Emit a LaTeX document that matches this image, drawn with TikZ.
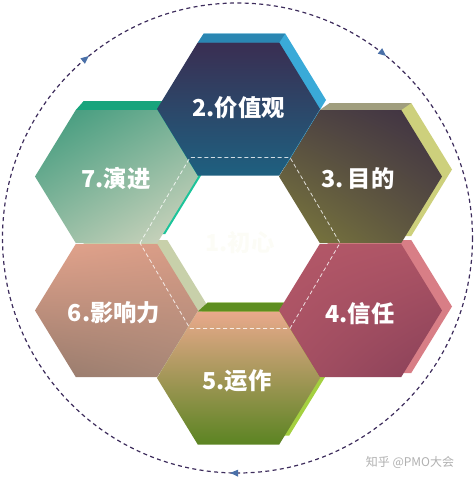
\documentclass[tikz,border=0pt]{standalone}
\usepackage{fontspec}
\newfontfamily\cjk{Noto Sans CJK SC}
\usetikzlibrary{arrows.meta,decorations.markings,shadings}

\definecolor{ringline}{RGB}{61,44,92}
\definecolor{ringtip}{RGB}{74,112,168}
\definecolor{hexTwoTop}{RGB}{58,46,82}
\definecolor{hexTwoBot}{RGB}{30,96,128}
\definecolor{hexTwoSide}{RGB}{58,170,216}
\definecolor{hexTwoRim}{RGB}{42,134,178}
\definecolor{hexThreeA}{RGB}{62,48,68}
\definecolor{hexThreeB}{RGB}{126,124,60}
\definecolor{hexThreeSide}{RGB}{205,208,124}
\definecolor{hexThreeRim}{RGB}{160,158,126}
\definecolor{hexFourA}{RGB}{180,88,104}
\definecolor{hexFourB}{RGB}{136,64,88}
\definecolor{hexFourSide}{RGB}{216,126,134}
\definecolor{hexFiveTop}{RGB}{233,169,140}
\definecolor{hexFiveMid}{RGB}{196,156,118}
\definecolor{hexFiveBot}{RGB}{91,132,34}
\definecolor{hexFiveSide}{RGB}{164,208,64}
\definecolor{hexFiveRim}{RGB}{94,142,32}
\definecolor{hexSixTop}{RGB}{226,163,140}
\definecolor{hexSixBot}{RGB}{168,136,120}
\definecolor{hexSixSide}{RGB}{200,208,170}
\definecolor{hexSevenA}{RGB}{58,152,122}
\definecolor{hexSevenB}{RGB}{216,216,194}
\definecolor{hexSevenSide}{RGB}{28,196,154}
\definecolor{hexSevenRim}{RGB}{24,164,124}

\begin{document}
\begin{tikzpicture}[x=0.75pt,y=0.75pt,yscale=-1,xscale=1,
  hexlabel/.style={text=white,font=\cjk\bfseries\fontsize{17.5}{20}\selectfont},
  ringdash/.style={draw=ringline,line width=0.9pt,dash pattern=on 3pt off 2.5pt},
  innerdash/.style={draw=white,draw opacity=0.8,line width=0.6pt,dash pattern=on 3pt off 2pt}]
\useasboundingbox (0,0) rectangle (474,482);

%Shape: Hexagon 6
\fill [hexSixSide,shift={(10,-4)}] (35,310.5) -- (75.75,244) -- (157.25,244) -- (198,310.5) -- (157.25,377) -- (75.75,377) -- cycle ;
\shade [upper left=hexSixTop,upper right=hexSixTop!95!black,lower left=hexSixBot!90!black,lower right=hexSixBot] (35,310.5) -- (75.75,244) -- (157.25,244) -- (198,310.5) -- (157.25,377) -- (75.75,377) -- cycle ;

%Shape: Hexagon 5
\fill [hexFiveSide,shift={(10,-9)}] (157,378) -- (197.75,311.5) -- (279.25,311.5) -- (320,378) -- (279.25,444.5) -- (197.75,444.5) -- cycle ;
\fill [hexFiveRim] (197.75,311.5) -- (207.75,302.5) -- (289.25,302.5) -- (279.25,311.5) -- cycle ;
\shade [top color=hexFiveTop,middle color=hexFiveMid,bottom color=hexFiveBot] (157,378) -- (197.75,311.5) -- (279.25,311.5) -- (320,378) -- (279.25,444.5) -- (197.75,444.5) -- cycle ;

%Shape: Hexagon 4
\fill [hexFourSide,shift={(10,-4)}] (279,310.5) -- (319.75,244) -- (401.25,244) -- (442,310.5) -- (401.25,377) -- (319.75,377) -- cycle ;
\shade [upper left=hexFourA,upper right=hexFourA!85!hexFourB,lower left=hexFourA!70!hexFourB,lower right=hexFourB] (279,310.5) -- (319.75,244) -- (401.25,244) -- (442,310.5) -- (401.25,377) -- (319.75,377) -- cycle ;

%Shape: Hexagon 3
\fill [hexThreeSide,shift={(10,-7)}] (279,176.5) -- (319.75,110) -- (401.25,110) -- (442,176.5) -- (401.25,243) -- (319.75,243) -- cycle ;
\fill [hexThreeRim] (319.75,110) -- (329.75,103) -- (411.25,103) -- (401.25,110) -- cycle ;
\shade [upper right=hexThreeA,upper left=hexThreeA!70!hexThreeB,lower right=hexThreeA!55!hexThreeB,lower left=hexThreeB] (279,176.5) -- (319.75,110) -- (401.25,110) -- (442,176.5) -- (401.25,243) -- (319.75,243) -- cycle ;

%Shape: Hexagon 7
\fill [hexSevenSide,shift={(8,-9)}] (35,176.5) -- (75.75,110) -- (157.25,110) -- (198,176.5) -- (157.25,243) -- (75.75,243) -- cycle ;
\fill [hexSevenRim] (75.75,110) -- (83.75,101) -- (165.25,101) -- (157.25,110) -- cycle ;
\shade [upper left=hexSevenA,upper right=hexSevenA!60!hexSevenB,lower left=hexSevenA!45!hexSevenB,lower right=hexSevenB] (35,176.5) -- (75.75,110) -- (157.25,110) -- (198,176.5) -- (157.25,243) -- (75.75,243) -- cycle ;

%Shape: Hexagon 2
\fill [hexTwoSide,shift={(6,-9)}] (157,109) -- (197.75,42.5) -- (279.25,42.5) -- (320,109) -- (279.25,175.5) -- (197.75,175.5) -- cycle ;
\fill [hexTwoRim] (197.75,42.5) -- (203.75,33.5) -- (285.25,33.5) -- (279.25,42.5) -- cycle ;
\shade [top color=hexTwoTop,bottom color=hexTwoBot] (157,109) -- (197.75,42.5) -- (279.25,42.5) -- (320,109) -- (279.25,175.5) -- (197.75,175.5) -- cycle ;

%Shape: Inner dashed hexagon
\draw [innerdash] (140,243) -- (190,157.5) -- (290,157.5) -- (340,243) -- (290,328.5) -- (190,328.5) -- cycle ;

%Shape: Dashed ring
\draw [ringdash,postaction={decorate},decoration={markings,
  mark=at position 0.255 with {\arrow[ringtip]{Triangle[length=6pt,width=5pt]}},
  mark=at position 0.641 with {\arrow[ringtip]{Triangle[length=6pt,width=5pt]}},
  mark=at position 0.859 with {\arrow[ringtip]{Triangle[length=6pt,width=5pt]}}}]
  (237.5,238) circle (235) ;

% Labels
\node [text={rgb,255:red,252;green,252;blue,246},font=\cjk\bfseries\fontsize{17.5}{20}\selectfont] (core) at (240,243) {1.初心};
\node [hexlabel] (values) at (238.5,108) {2.价值观};
\node [hexlabel] (purpose) at (358,179) {3.\,目的};
\node [hexlabel] (trust) at (360,314) {4.信任};
\node [hexlabel] (operation) at (237,381) {5.运作};
\node [hexlabel] (influence) at (114,313) {6.影响力};
\node [hexlabel] (evolution) at (116,179) {7.演进};

% Watermark
\node [text={rgb,255:red,176;green,176;blue,176},font=\cjk\fontsize{9}{10}\selectfont] (mark) at (410,462) {知乎 @PMO大会};

\end{tikzpicture}
\end{document}
